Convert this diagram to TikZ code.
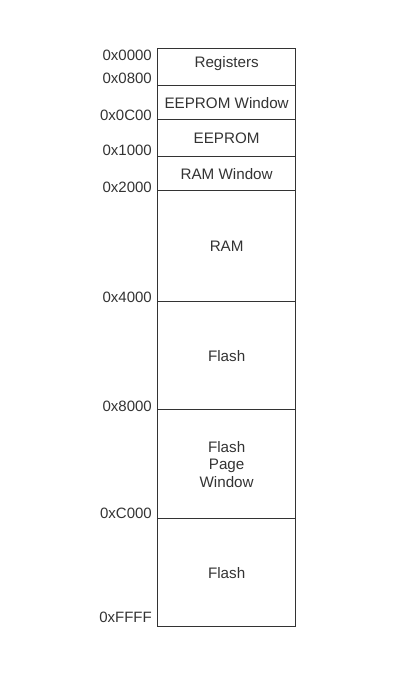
\documentclass[tikz,border=0pt]{standalone}
\usepackage{fontspec}
\setmainfont{Liberation Sans}
\begin{document}
\begin{tikzpicture}[x=1pt,y=-1pt,
  region/.style={draw=black!80, line width=1.3pt, minimum width=138pt, anchor=north west,
    inner sep=0pt, align=center, font=\fontsize{15.2}{17.5}\selectfont, text=black!80},
  addr/.style={anchor=east, inner sep=0pt, font=\fontsize{15}{17}\selectfont, text=black!80}]
\useasboundingbox (0,0) rectangle (412,700);
\node[region, minimum height=37pt] (reg) at (157,48) {};
\node[text=black!80, font=\fontsize{15.2}{17.5}\selectfont, inner sep=0pt] (regt) at ([yshift=3.5pt]reg.center) {Registers};
\node[region, minimum height=34pt] (eew) at (157,85) {EEPROM Window};
\node[region, minimum height=37pt] (ee) at (157,119) {EEPROM};
\node[region, minimum height=34pt] (ramw) at (157,156) {RAM Window};
\node[region, minimum height=111pt] (ram) at (157,190) {RAM};
\node[region, minimum height=108pt] (fl1) at (157,301) {Flash};
\node[region, minimum height=109pt] (fpw) at (157,409) {Flash\\Page\\Window};
\node[region, minimum height=108pt] (fl2) at (157,518) {Flash};
\node[addr] (a0) at (152,55) {0x0000};
\node[addr] (a1) at (152,78) {0x0800};
\node[addr] (a2) at (152,115) {0x0C00};
\node[addr] (a3) at (152,150) {0x1000};
\node[addr] (a4) at (152,187) {0x2000};
\node[addr] (a5) at (152,297) {0x4000};
\node[addr] (a6) at (152,406) {0x8000};
\node[addr] (a7) at (152,513) {0xC000};
\node[addr] (a8) at (152,617) {0xFFFF};
\end{tikzpicture}
\end{document}
